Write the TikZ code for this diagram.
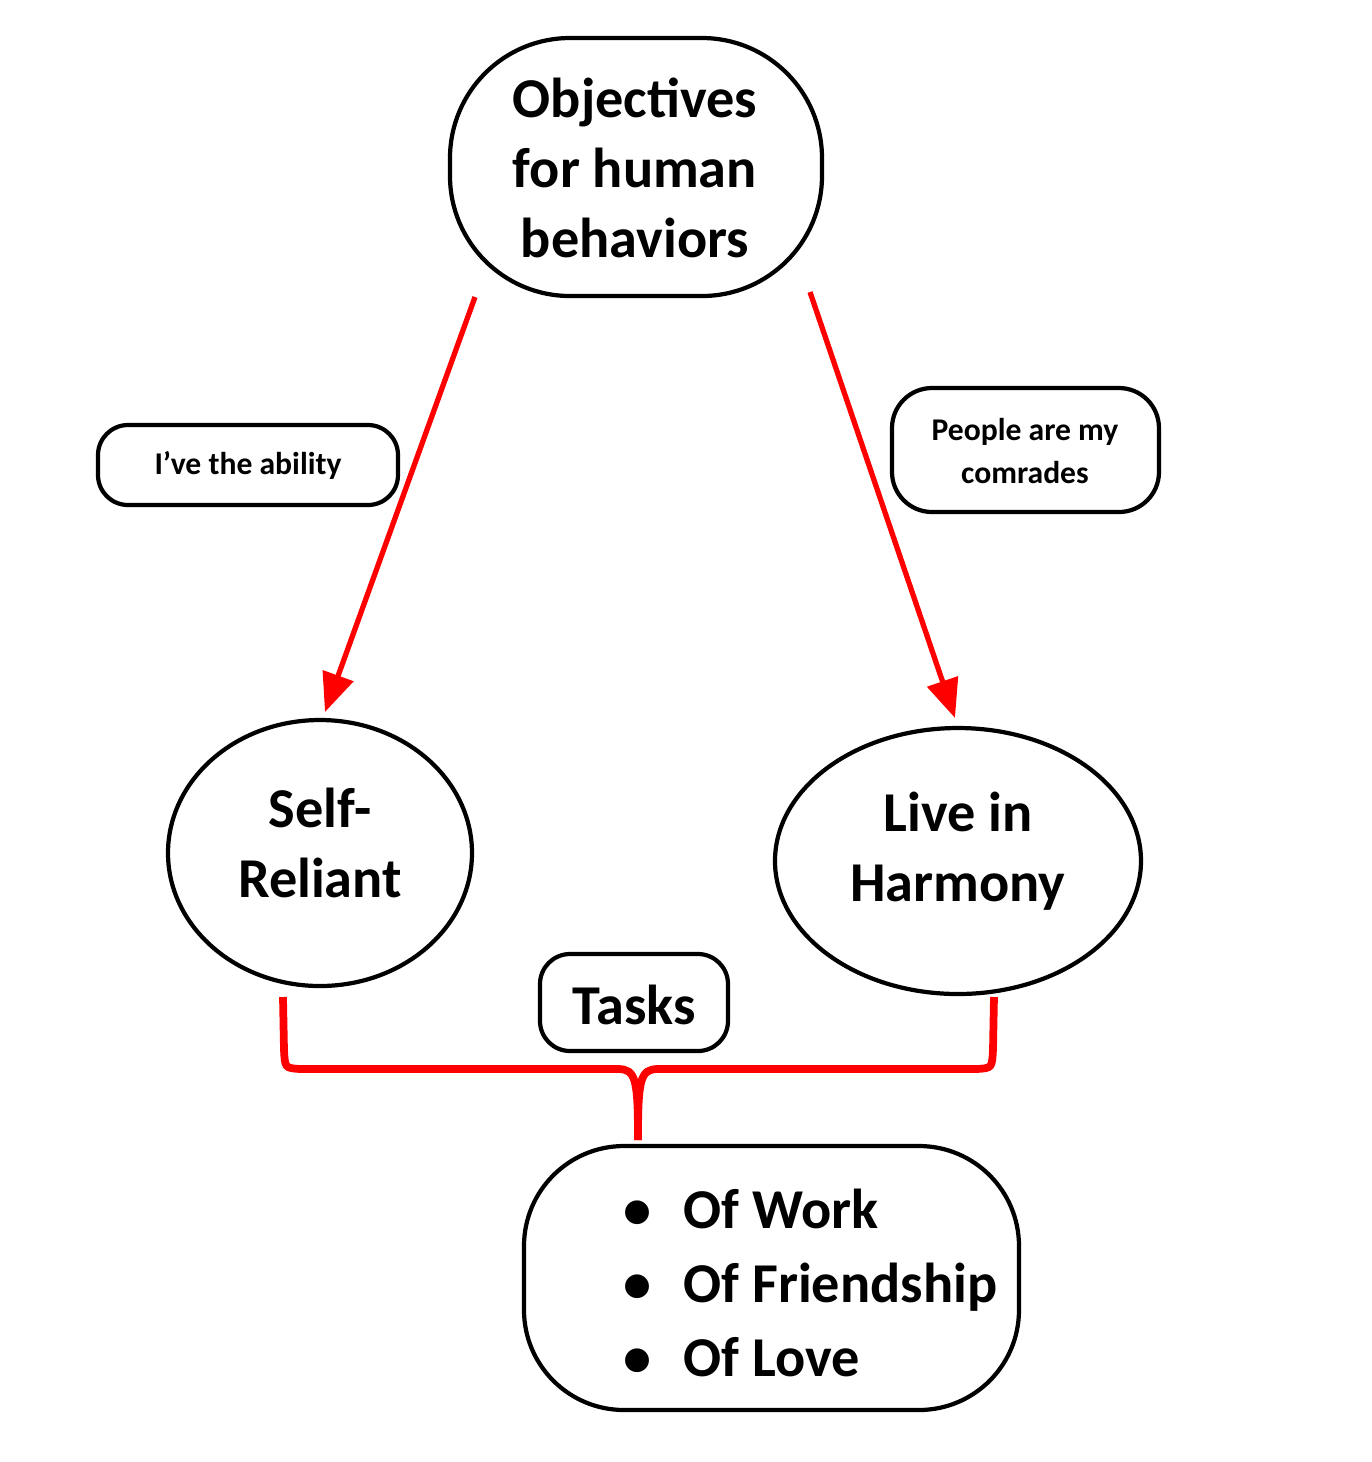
\documentclass[tikz,border=0pt]{standalone}
\usepackage{fontspec}
\setmainfont{Carlito}
\usetikzlibrary{arrows.meta}
\begin{document}
\begin{tikzpicture}[x=0.01cm,y=-0.01cm,
  box/.style={draw,line width=1.2pt,rounded corners=#1},
  big/.style={font=\fontsize{16}{20}\selectfont\bfseries,align=center},
  small/.style={font=\fontsize{9}{12.5}\selectfont\bfseries,align=center},
  red arrow/.style={draw=red,line width=1.5pt,-{Triangle[length=11pt,width=9pt]}},
  brace/.style={draw=red,line width=2.2pt}]
\useasboundingbox (0,0) rectangle (1372,1462);
\draw[box=12mm] (450,38) rectangle (822,296);
\node[big] (obj) at (635,168) {Objectives\\for human\\behaviors};
\draw[box=3mm] (98,425) rectangle (398,505);
\node[small] (abil) at (248,465) {I’ve the ability};
\draw[box=4mm] (892,388) rectangle (1159,512);
\node[small] (comr) at (1025,451) {People are my\\comrades};
\draw[line width=1.2pt] (320,853) ellipse [x radius=152,y radius=133];
\node[big] (self) at (320,843) {Self-\\Reliant};
\draw[line width=1.2pt] (958,861) ellipse [x radius=183,y radius=133];
\node[big] (live) at (958,851) {Live in\\Harmony};
\draw[box=3mm] (540,954) rectangle (728,1051);
\node[big] (tasks) at (634,1005) {Tasks};
\draw[box=10mm] (524,1146) rectangle (1019,1410);
\node[big,align=left,anchor=west,inner sep=0pt] (list) at (623,1283) {%
\makebox[0.6cm][l]{\textbullet}Of Work\\[1pt]\makebox[0.6cm][l]{\textbullet}Of Friendship\\[1pt]\makebox[0.6cm][l]{\textbullet}Of Love};
\coordinate (a1) at (475,297); \coordinate (a2) at (325,712);
\coordinate (b1) at (810,292); \coordinate (b2) at (955,718);
\draw[red arrow] (a1) -- (a2);
\draw[red arrow] (b1) -- (b2);
\coordinate (l) at (283,997); \coordinate (r) at (994,997); \coordinate (m) at (638,1140);
\draw[brace] (l) -- (284,1050) .. controls (285,1068) .. (300,1069) -- (618,1069)
  .. controls (636,1069) and (638,1080) .. (m);
\draw[brace] (r) -- (993,1050) .. controls (992,1068) .. (977,1069) -- (658,1069)
  .. controls (640,1069) and (638,1080) .. (m);
\end{tikzpicture}
\end{document}
